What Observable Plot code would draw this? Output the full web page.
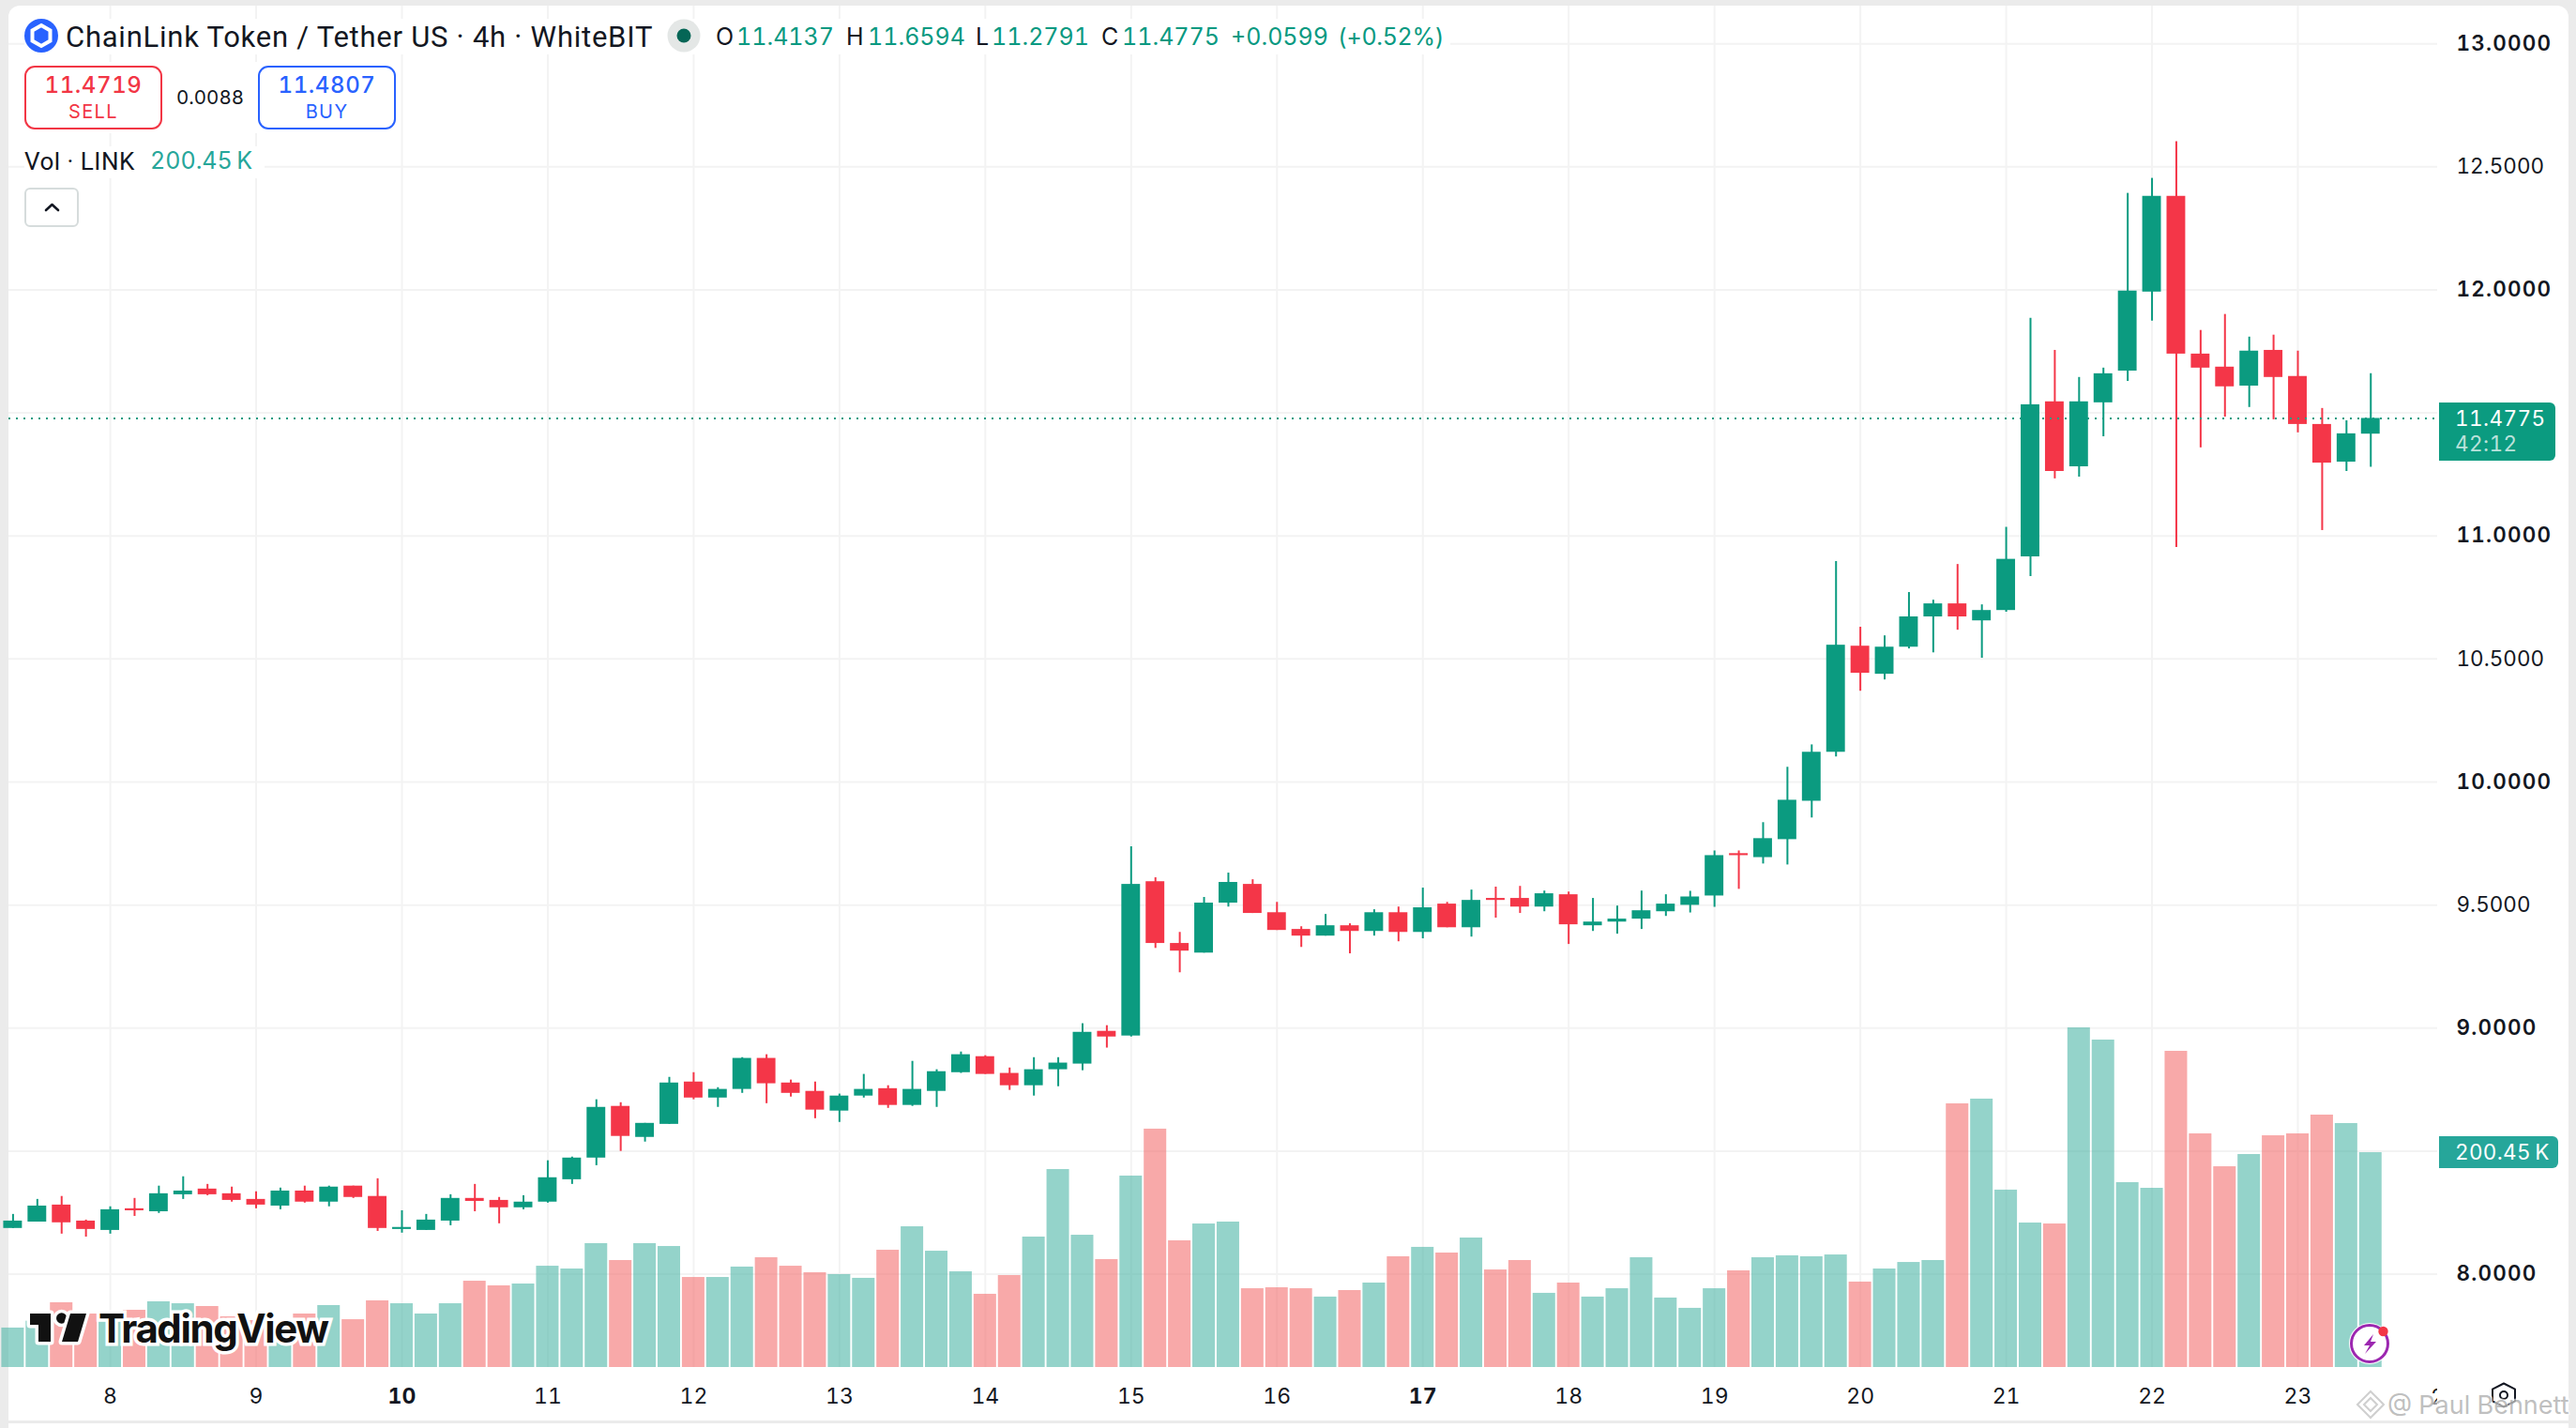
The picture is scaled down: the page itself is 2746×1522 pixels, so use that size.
<!DOCTYPE html>
<html>
<head>
<meta charset="utf-8">
<script src="https://cdn.jsdelivr.net/npm/d3@7"></script>
<script src="https://cdn.jsdelivr.net/npm/@observablehq/plot@0.6"></script>
<style>
  html,body{margin:0;padding:0;background:#ebebeb;}
  #page{position:relative;width:2746px;height:1522px;overflow:hidden;font-family:Inter,Roboto,sans-serif;color:#131722;font-variant-numeric:tabular-nums;}
  #panel{position:absolute;left:9px;top:6px;width:2729px;height:1508px;background:#fff;border-radius:12px 12px 0 0;}
  #foot{position:absolute;left:9px;top:1517px;width:2729px;height:5px;background:#fff;}
  .layer{position:absolute;left:0;top:0;}
  .t{position:absolute;white-space:nowrap;line-height:1;}
  .g{color:#089981}
  .o{font-size:25px;top:27px;}
  .box{position:absolute;box-sizing:border-box;background:#fff;border-radius:11px;border:2px solid;}
  .patch{position:absolute;background:#fff;}
  svg g[font-weight="600"]{letter-spacing:1.2px;}
</style>
</head>
<body>
<div id="page">
  <div id="panel"></div>
  <div id="foot"></div>
  <div id="chart"></div>
  <div id="overlay"></div>
</div>
<script>
// ---- chart values ----
const firstBarUTC = Date.UTC(2023, 9, 7, 8);   // first 4h candle
const barHours = 4;
const opens = [8.186,8.212,8.281,8.216,8.178,8.266,8.254,8.323,8.346,8.327,8.304,8.277,8.338,8.293,8.358,8.316,8.182,8.178,8.216,8.308,8.300,8.270,8.293,8.384,
 8.472,8.682,8.556,8.609,8.781,8.716,8.751,8.877,8.777,8.743,8.663,8.724,8.754,8.686,8.743,8.819,8.884,8.816,8.766,8.831,8.854,8.987,8.968,
 9.595,9.344,9.305,9.508,9.584,9.469,9.401,9.374,9.416,9.393,9.469,9.389,9.504,9.408,9.527,9.527,9.492,9.542,9.416,9.431,9.443,9.473,
 9.499,9.537,9.709,9.693,9.766,9.922,10.121,10.552,10.438,10.548,10.671,10.724,10.655,10.697,
 10.915,11.545,11.281,11.541,11.670,11.991,12.380,11.739,11.686,11.609,11.754,11.648,11.453,11.300,11.4137];
const highs = [8.243,8.304,8.316,8.220,8.274,8.308,8.358,8.396,8.365,8.354,8.335,8.350,8.358,8.358,8.358,8.388,8.258,8.243,8.323,8.365,8.312,8.319,8.461,8.476,
 8.709,8.697,8.613,8.800,8.819,8.758,8.880,8.892,8.789,8.781,8.732,8.812,8.766,8.865,8.831,8.903,8.888,8.838,8.880,8.880,9.018,9.010,9.737,
 9.611,9.389,9.531,9.630,9.603,9.511,9.412,9.462,9.424,9.481,9.492,9.569,9.511,9.561,9.573,9.576,9.557,9.553,9.527,9.496,9.557,9.542,
 9.556,9.720,9.720,9.835,10.060,10.151,10.896,10.629,10.594,10.770,10.739,10.884,10.720,11.035,
 11.884,11.754,11.644,11.682,12.392,12.453,12.602,11.835,11.900,11.808,11.816,11.751,11.518,11.468,11.6594];
const lows = [8.186,8.212,8.163,8.151,8.163,8.235,8.247,8.304,8.319,8.293,8.266,8.262,8.289,8.274,8.308,8.174,8.167,8.178,8.197,8.254,8.205,8.262,8.289,8.365,
 8.441,8.499,8.537,8.609,8.709,8.678,8.735,8.693,8.720,8.632,8.617,8.716,8.674,8.682,8.678,8.816,8.812,8.747,8.724,8.762,8.827,8.919,8.964,
 9.324,9.225,9.305,9.492,9.466,9.397,9.328,9.374,9.302,9.374,9.351,9.363,9.408,9.370,9.447,9.466,9.473,9.340,9.393,9.382,9.401,9.454,
 9.468,9.491,9.564,9.667,9.663,9.854,10.102,10.369,10.415,10.541,10.525,10.617,10.503,10.690,
 10.835,11.232,11.239,11.403,11.628,11.873,10.953,11.358,11.483,11.522,11.472,11.419,11.022,11.262,11.2791];
const closes = [8.216,8.277,8.209,8.182,8.262,8.258,8.327,8.338,8.323,8.300,8.281,8.338,8.293,8.354,8.312,8.186,8.190,8.220,8.308,8.296,8.270,8.293,8.392,8.472,
 8.678,8.560,8.613,8.777,8.716,8.751,8.877,8.774,8.735,8.667,8.724,8.751,8.686,8.751,8.823,8.892,8.812,8.766,8.831,8.858,8.983,8.964,9.584,
 9.344,9.313,9.508,9.592,9.466,9.397,9.374,9.416,9.393,9.469,9.389,9.489,9.408,9.519,9.519,9.492,9.546,9.420,9.431,9.443,9.477,9.504,
 9.533,9.701,9.701,9.770,9.926,10.121,10.556,10.442,10.548,10.671,10.724,10.671,10.697,10.905,
 11.533,11.262,11.545,11.659,11.995,12.380,11.739,11.682,11.606,11.751,11.644,11.453,11.296,11.415,11.4775];
const volumesK = [36.8,43.2,60.4,49.9,46.7,53.4,61.3,59.5,56.9,47.3,43.8,40.9,49.9,57.8,44.6,62.2,59.5,49.9,59.5,80.5,76.2,77.9,94.5,91.9,
 115.6,99.8,115.6,112.9,84.0,84.0,93.7,102.4,94.5,88.4,86.7,83.2,109.4,131.3,108.5,89.3,68.3,85.8,121.7,184.7,123.4,100.7,178.6,
 222.4,118.2,133.9,135.7,73.5,74.4,73.5,65.7,71.8,78.8,103.3,112.1,106.8,120.8,91.0,99.8,69.2,78.8,65.7,73.5,102.4,64.8,
 55.2,73.5,90.2,102.4,104.2,103.3,105.0,79.7,91.9,98.0,99.8,246.0,250.4,165.5,
 134.8,133.9,316.9,305.5,172.5,167.2,295.0,218.0,187.3,198.7,216.2,218.0,235.5,227.6,200.45];
const lastPrice = 11.4775;
const boldPriceTicks = [8,9,10,11,12,13];
const plainPriceTicks = [9.5,10.5,12.5];
const gridPriceTicks = [8,8.5,9,9.5,10,10.5,11,11.5,12,12.5,13];
const plainDays = [8,9,11,12,13,14,15,16,18,19,20,21,22,23];
const boldDays = [10,17];

// ---- layout ----
const W = 2746, H = 1522;
const M = {left:9, right:148, top:6, bottom:65};
const hour = 3600e3;
const day = d => new Date(Date.UTC(2023, 9, d));
const xDomain = [new Date(firstBarUTC - 0.17*barHours*hour), new Date(firstBarUTC + 99.75*barHours*hour)];
const yDomain = [7.621, 13.153];
const volDomain = [0, 1270.2];
const GREEN = "#0b9b80", RED = "#f43648", GRID = "#f3f3f3";
const FONT = "Inter, Roboto, sans-serif";

const bars = opens.map((o,i)=>({
  date:new Date(firstBarUTC + i*barHours*hour),
  open:o, high:highs[i], low:lows[i], close:closes[i], vol:volumesK[i],
  dir: closes[i] >= o ? "up" : "down"
}));
const left  = d => new Date(+d.date - barHours/2*hour);
const right = d => new Date(+d.date + barHours/2*hour);
const common = {width:W, height:H, marginLeft:M.left, marginRight:M.right, marginTop:M.top, marginBottom:M.bottom,
  style:{background:"transparent", fontFamily:FONT, position:"absolute", left:0, top:0, overflow:"visible"}};

const axisY = (ticks, weight) => Plot.axisY({ticks, anchor:"right", tickSize:0, tickPadding:20, label:null, fontSize:22.5, fontWeight:weight,
  fill:"#131722", tickFormat:d=>d.toFixed(4), textAnchor:"start", dy:0});
const axisX = (days, weight) => Plot.axisX({ticks:days.map(day), anchor:"bottom", tickSize:0, tickPadding:21, label:null, fontSize:23, fontWeight:weight,
  fill:"#131722", tickFormat:d=>String(d.getUTCDate()), dy:1});

const pricePlot = Plot.plot({...common,
  x:{type:"utc", domain:xDomain},
  y:{domain:yDomain},
  color:{domain:["up","down"], range:[GREEN, RED]},
  marks:[
    Plot.gridX({ticks:[...plainDays,...boldDays].map(day), stroke:GRID, strokeOpacity:1, strokeWidth:2}),
    Plot.gridY({ticks:gridPriceTicks, stroke:GRID, strokeOpacity:1, strokeWidth:2}),
    Plot.ruleX(bars,{x:"date", y1:"low", y2:"high", stroke:"dir", strokeWidth:2}),
    Plot.rect(bars,{x1:left, x2:right, y1:"open", y2:"close", fill:"dir", insetLeft:3, insetRight:3}),
    Plot.ruleY([lastPrice],{stroke:GREEN, strokeWidth:2, strokeDasharray:"2,6"}),
    axisY(boldPriceTicks,600), axisY(plainPriceTicks,400),
    axisX(plainDays,400), axisX(boldDays,700)
  ]});
const volPlot = Plot.plot({...common,
  x:{type:"utc", domain:xDomain, axis:null},
  y:{domain:volDomain, axis:null},
  color:{domain:["up","down"], range:["#4db6a7","#f37070"]},
  marks:[
    Plot.rect(bars,{x1:left, x2:right, y1:0, y2:"vol", fill:"dir", fillOpacity:0.6, insetLeft:0.95, insetRight:0.95})
  ]});
document.getElementById("chart").append(pricePlot, volPlot);

// ---- TradingView-style chrome around the plot ----
document.getElementById("overlay").innerHTML = `
<div class="patch" style="left:26px;top:20px;width:1520px;height:38px"></div>
<div class="patch" style="left:26px;top:66px;width:400px;height:76px"></div>
<div class="patch" style="left:26px;top:156px;width:256px;height:34px"></div>

<svg class="layer" width="2746" height="1522" style="pointer-events:none">
  <circle cx="44" cy="38" r="18" fill="#2962ff"/>
  <path d="M44 27 L53.5 32.5 L53.5 43.5 L44 49 L34.5 43.5 L34.5 32.5 Z" fill="#2962ff" stroke="#fff" stroke-width="4"/>
  <circle cx="729" cy="38" r="17.5" fill="#e4e7e6"/>
  <circle cx="729" cy="38" r="7.5" fill="#056656"/>

  <path d="M49 224 L55.5 218 L62 224" fill="none" stroke="#131722" stroke-width="2.6" stroke-linecap="round" stroke-linejoin="round"/>

  <g fill="#111" stroke="#fff" stroke-width="7" paint-order="stroke" stroke-linejoin="round">
    <path d="M32 1400 H54 V1430 H41 V1412 H32 Z"/>
    <circle cx="65.7" cy="1405" r="5.7"/>
    <path d="M75 1400 H92 L83 1430 H66 Z"/>
  </g>

  <circle cx="2526" cy="1432" r="22" fill="#fff"/>
  <circle cx="2526" cy="1432" r="19.5" fill="#fff" stroke="#9c27b0" stroke-width="3"/>
  <path d="M2530 1422 L2520 1434 L2526 1434 L2521 1443 L2533 1430 L2527 1430 Z" fill="#9c27b0"/>
  <circle cx="2540.5" cy="1419" r="5.2" fill="#f23645"/>

  <path d="M2669 1474.5 L2681 1480.7 L2681 1493.3 L2669 1499.5 L2657 1493.3 L2657 1480.7 Z" fill="none" stroke="#131722" stroke-width="2" stroke-linejoin="round"/>
  <circle cx="2669" cy="1487" r="4" fill="none" stroke="#131722" stroke-width="2"/>

  <g fill="none" stroke="#cfcfcf" stroke-width="2">
    <path d="M2527 1483 L2541 1497 L2527 1511 L2513 1497 Z"/>
    <path d="M2527 1490 L2534 1497 L2527 1504 L2520 1497 Z"/>
  </g>
</svg>

<div class="t" style="left:70px;top:24px;font-size:31px;letter-spacing:.75px;font-family:Roboto,sans-serif">ChainLink Token / Tether US · 4h · WhiteBIT</div>

<div class="t o" style="left:763px">O</div>
<div class="t g o" style="left:785px">11.4137</div>
<div class="t o" style="left:902px">H</div>
<div class="t g o" style="left:925px">11.6594</div>
<div class="t o" style="left:1040px">L</div>
<div class="t g o" style="left:1057px">11.2791</div>
<div class="t o" style="left:1174px">C</div>
<div class="t g o" style="left:1196px">11.4775</div>
<div class="t g o" style="left:1312px">+0.0599</div>
<div class="t g o" style="left:1426px;letter-spacing:-.3px">(+0.52%)</div>

<div class="box" style="left:26px;top:70px;width:147px;height:68px;border-color:#f23645"></div>
<div class="t" style="left:26px;width:147px;text-align:center;top:79px;font-size:24px;letter-spacing:.6px;font-weight:500;color:#f23645">11.4719</div>
<div class="t" style="left:26px;width:147px;text-align:center;top:109px;font-size:20px;letter-spacing:1.4px;color:#f23645">SELL</div>
<div class="t" style="left:188px;top:94px;font-size:20.5px">0.0088</div>
<div class="box" style="left:275px;top:70px;width:147px;height:68px;border-color:#2962ff"></div>
<div class="t" style="left:275px;width:147px;text-align:center;top:79px;font-size:24px;letter-spacing:.6px;font-weight:500;color:#2962ff">11.4807</div>
<div class="t" style="left:275px;width:147px;text-align:center;top:109px;font-size:20px;letter-spacing:1.4px;color:#2962ff">BUY</div>

<div class="t" style="left:26px;top:159px;font-size:26px;letter-spacing:.5px;font-family:Roboto,sans-serif">Vol · LINK</div>
<div class="t" style="left:160px;top:159px;font-size:25px;color:#26a69a">200.45&#8201;K</div>
<div class="box" style="left:26px;top:200px;width:58px;height:42px;border:2px solid #d6dcdc;border-radius:6px;background:transparent"></div>

<div class="t" style="left:105px;top:1395px;font-size:42px;font-weight:700;color:#111;letter-spacing:-1.4px;-webkit-text-stroke:7px #fff;paint-order:stroke fill">TradingView</div>

<div style="position:absolute;left:2600px;top:429px;width:124px;height:62px;background:#0b9b80;border-radius:0 6px 6px 0"></div>
<div class="t" style="left:2617px;top:435px;font-size:22.5px;letter-spacing:.4px;color:#fff">11.4775</div>
<div class="t" style="left:2617px;top:462px;font-size:22.5px;letter-spacing:.4px;color:rgba(255,255,255,.72)">42:12</div>
<div style="position:absolute;left:2600px;top:1211px;width:127px;height:34px;background:#26a69a;border-radius:0 6px 6px 0"></div>
<div class="t" style="left:2617px;top:1217px;font-size:22.5px;letter-spacing:.3px;color:#fff">200.45&#8201;K</div>

<div style="position:absolute;left:2592px;top:1477px;width:6px;height:26px;overflow:hidden"><div class="t" style="left:-1px;top:1px;font-size:23px;color:#131722">24</div></div>
<div class="t" style="left:2545px;top:1484px;font-size:27px;color:rgba(150,150,150,.62);-webkit-text-stroke:3px rgba(255,255,255,.6);paint-order:stroke fill">@ Paul Bennett 1</div>
`;
</script>
</body>
</html>
